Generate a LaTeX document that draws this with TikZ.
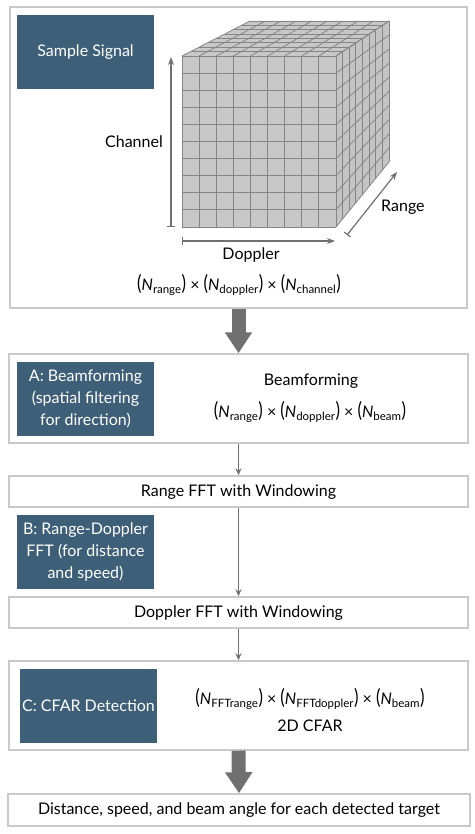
\documentclass[tikz,border=0pt]{standalone}
\usepackage{fontspec}
\setmainfont{Lato}
\usetikzlibrary{arrows.meta}
\definecolor{boxline}{HTML}{C9C9C9}
\definecolor{darkbox}{HTML}{3D5F78}
\definecolor{arrowgray}{HTML}{707070}
\definecolor{cubefill}{HTML}{C8C8C8}
\definecolor{cubeside}{HTML}{C4C4C4}
\definecolor{cubeline}{HTML}{858585}
\newcommand{\Nsb}[1]{\textit{N}\textsubscript{\fontsize{11.5}{11.5}\selectfont #1}}
\newcommand{\lp}{\raisebox{-0.5pt}{\scalebox{1.05}[1.3]{(}}}
\newcommand{\rp}{\raisebox{-0.5pt}{\scalebox{1.05}[1.3]{)}}}
\newcommand{\tms}{\ ×\ }
\begin{document}
\begin{tikzpicture}[x=1pt,y=-1pt,
  frame/.style={draw=boxline,line width=1.5pt,fill=white,rectangle,inner sep=0pt},
  label/.style={fill=darkbox,text=white,rectangle,inner sep=0pt,minimum width=137pt,minimum height=74pt,align=center,font=\fontsize{16}{22}\selectfont},
  txt/.style={inner sep=0pt,font=\fontsize{16}{22}\selectfont,align=center},
  thinarrow/.style={draw=arrowgray,line width=1pt,-{Stealth[length=7pt,width=6pt]}},
  bigarrow/.style={draw=arrowgray,line width=14pt,-{Triangle[length=21pt,width=26pt]}},
  dimarrow/.style={draw=arrowgray,line width=1.2pt,{Bar[width=8pt]}-{Stealth[length=8pt,width=6pt]}},
  cubegrid/.style={draw=cubeline,line width=0.8pt}]
\useasboundingbox (0,0) rectangle (474,834);
% frames
\node[frame,minimum width=457pt,minimum height=301pt] (f1) at (238.5,157.5) {};
\node[frame,minimum width=459pt,minimum height=89pt] (f2) at (238.5,398.5) {};
\node[frame,minimum width=459pt,minimum height=31pt] (f3) at (238.5,491.5) {};
\node[frame,minimum width=459pt,minimum height=31pt] (f4) at (238.5,612.5) {};
\node[frame,minimum width=459pt,minimum height=89pt] (f5) at (238.5,705.5) {};
\node[frame,minimum width=462pt,minimum height=32pt] (f6) at (239,810) {};
% dark labels
\node[label] (ls) at (85.5,52) {Sample Signal};
\node[label] (la) at (85.5,399) {A: Beamforming\\(spatial filtering\\for direction)};
\node[label] (lb) at (85.5,552) {B: Range-Doppler\\FFT (for distance\\and speed)};
\node[label] (lc) at (88.5,706) {C: CFAR Detection};
% cube (front face, top face, right face in perspective)
\fill[cubefill] (182,56) rectangle (336,227);
\fill[cubefill] (182,56) -- (336,56) -- (389,21) -- (250,21) -- cycle;
\fill[cubeside] (336,56) -- (389,21) -- (389,162) -- (336,227) -- cycle;
\foreach \i in {0,...,9} {
  \draw[cubegrid] (182+\i*17.111,56) -- (182+\i*17.111,227);
  \draw[cubegrid] (182+\i*17.111,56) -- (250+\i*15.444,21);
}
\foreach \j in {0,...,10} {
  \draw[cubegrid] (182,56+\j*17.1) -- (336,56+\j*17.1);
  \draw[cubegrid] (336,56+\j*17.1) -- (389,21+\j*14.1);
}
\foreach \k in {1,...,8} {
  \draw[cubegrid] (182+\k*8.5,56-\k*4.375) -- (336+\k*6.625,56-\k*4.375) -- (336+\k*6.625,227-\k*8.125);
}
% cube annotations
\coordinate (cha) at (171,227); \coordinate (chb) at (171,57);
\coordinate (dpa) at (182,241); \coordinate (dpb) at (335,241);
\coordinate (rga) at (347,235); \coordinate (rgb) at (397,172);
\draw[dimarrow] (cha) -- (chb);
\draw[dimarrow] (dpa) -- (dpb);
\draw[dimarrow] (rga) -- (rgb);
\node[txt,anchor=east] (tch) at (163,142) {Channel};
\node[txt] (tdp) at (251,255) {Doppler};
\node[txt,anchor=west] (trg) at (381,207) {Range};
\node[txt] (tf1) at (239,285) {\lp\Nsb{range}\rp\tms\lp\Nsb{doppler}\rp\tms\lp\Nsb{channel}\rp};
% box 2
\node[txt] (tbf) at (311,381) {Beamforming};
\node[txt] (tf2) at (310,412) {\lp\Nsb{range}\rp\tms\lp\Nsb{doppler}\rp\tms\lp\Nsb{beam}\rp};
\node[txt] (trf) at (238.5,492) {Range FFT with Windowing};
\node[txt] (tdf) at (238.5,613) {Doppler FFT with Windowing};
\node[txt] (tf5) at (310,699) {\lp\Nsb{FFTrange}\rp\tms\lp\Nsb{FFTdoppler}\rp\tms\lp\Nsb{beam}\rp};
\node[txt] (tcf) at (310,726) {2D CFAR};
\node[txt] (tfin) at (239,810) {Distance, speed, and beam angle for each detected target};
% connectors
\draw[bigarrow] (f1.south) -- (f2.north);
\draw[thinarrow] (f2.south) -- (f3.north);
\draw[thinarrow] (f3.south) -- (f4.north);
\draw[thinarrow] (f4.south) -- (f5.north);
\draw[bigarrow] (f5.south) -- (f6.north);
\end{tikzpicture}
\end{document}
